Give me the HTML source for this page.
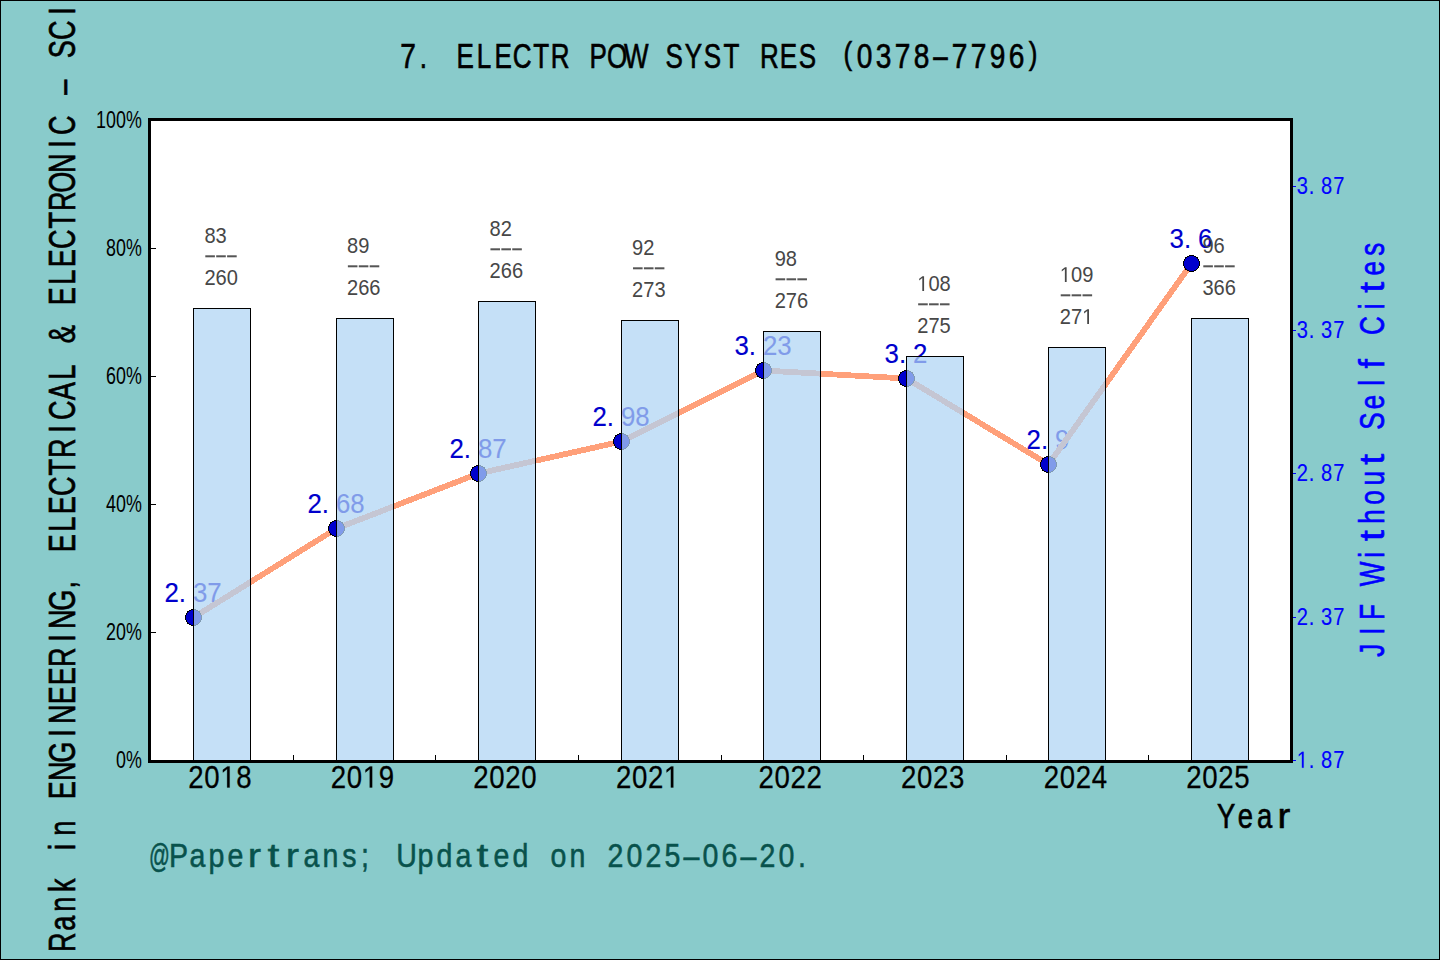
<!DOCTYPE html>
<html><head><meta charset="utf-8"><title>chart</title>
<style>html,body{margin:0;padding:0;width:1440px;height:960px;overflow:hidden;background:#89cbcb}</style>
</head><body>
<svg width="1440" height="960" viewBox="0 0 1440 960" style="display:block">
<rect x="0" y="0" width="1440" height="960" fill="#000"/>
<rect x="1" y="1" width="1438" height="958" fill="#89cbcb"/>
<rect x="149.5" y="119.5" width="1142.0" height="642.0" fill="#fff"/>
<text transform="translate(164.50,601.60) scale(0.9300,1.0)" x="-0.07 15.45 30.58 45.90" font-family='"Liberation Sans", sans-serif' font-size="27.79" fill="#0000cc" stroke="#0000cc" stroke-width="0.15" vector-effect="non-scaling-stroke" >2.37</text>
<text transform="translate(307.50,512.60) scale(0.9300,1.0)" x="-0.07 15.45 30.58 45.90" font-family='"Liberation Sans", sans-serif' font-size="27.79" fill="#0000cc" stroke="#0000cc" stroke-width="0.15" vector-effect="non-scaling-stroke" >2.68</text>
<text transform="translate(449.50,457.60) scale(0.9300,1.0)" x="-0.07 15.45 30.58 45.90" font-family='"Liberation Sans", sans-serif' font-size="27.79" fill="#0000cc" stroke="#0000cc" stroke-width="0.15" vector-effect="non-scaling-stroke" >2.87</text>
<text transform="translate(592.50,425.60) scale(0.9300,1.0)" x="-0.07 15.45 30.58 45.90" font-family='"Liberation Sans", sans-serif' font-size="27.79" fill="#0000cc" stroke="#0000cc" stroke-width="0.15" vector-effect="non-scaling-stroke" >2.98</text>
<text transform="translate(734.50,354.60) scale(0.9300,1.0)" x="-0.07 15.45 30.58 45.90" font-family='"Liberation Sans", sans-serif' font-size="27.79" fill="#0000cc" stroke="#0000cc" stroke-width="0.15" vector-effect="non-scaling-stroke" >3.23</text>
<text transform="translate(884.62,362.60) scale(0.9300,1.0)" x="-0.07 15.45 30.58" font-family='"Liberation Sans", sans-serif' font-size="27.79" fill="#0000cc" stroke="#0000cc" stroke-width="0.15" vector-effect="non-scaling-stroke" >3.2</text>
<text transform="translate(1026.62,448.60) scale(0.9300,1.0)" x="-0.07 15.45 30.58" font-family='"Liberation Sans", sans-serif' font-size="27.79" fill="#0000cc" stroke="#0000cc" stroke-width="0.15" vector-effect="non-scaling-stroke" >2.9</text>
<text transform="translate(1169.62,247.60) scale(0.9300,1.0)" x="-0.07 15.45 30.58" font-family='"Liberation Sans", sans-serif' font-size="27.79" fill="#0000cc" stroke="#0000cc" stroke-width="0.15" vector-effect="non-scaling-stroke" >3.6</text>
<polyline points="193.50,617.50 336.50,528.50 478.50,473.50 621.50,441.50 763.50,370.50 906.50,378.50 1048.50,464.50 1191.50,263.50" fill="none" stroke="#ffa07a" stroke-width="5.8" stroke-linejoin="round" stroke-linecap="butt" shape-rendering="crispEdges"/>
<circle cx="193.50" cy="617.50" r="8" fill="#0000cd" stroke="#000" stroke-width="1" shape-rendering="crispEdges"/>
<circle cx="336.50" cy="528.50" r="8" fill="#0000cd" stroke="#000" stroke-width="1" shape-rendering="crispEdges"/>
<circle cx="478.50" cy="473.50" r="8" fill="#0000cd" stroke="#000" stroke-width="1" shape-rendering="crispEdges"/>
<circle cx="621.50" cy="441.50" r="8" fill="#0000cd" stroke="#000" stroke-width="1" shape-rendering="crispEdges"/>
<circle cx="763.50" cy="370.50" r="8" fill="#0000cd" stroke="#000" stroke-width="1" shape-rendering="crispEdges"/>
<circle cx="906.50" cy="378.50" r="8" fill="#0000cd" stroke="#000" stroke-width="1" shape-rendering="crispEdges"/>
<circle cx="1048.50" cy="464.50" r="8" fill="#0000cd" stroke="#000" stroke-width="1" shape-rendering="crispEdges"/>
<circle cx="1191.50" cy="263.50" r="8" fill="#0000cd" stroke="#000" stroke-width="1" shape-rendering="crispEdges"/>
<rect x="193.50" y="308.50" width="57" height="453.00" fill="#afd4f4" fill-opacity="0.73" stroke="#000" stroke-width="1"/>
<rect x="336.50" y="318.50" width="57" height="443.00" fill="#afd4f4" fill-opacity="0.73" stroke="#000" stroke-width="1"/>
<rect x="478.50" y="301.50" width="57" height="460.00" fill="#afd4f4" fill-opacity="0.73" stroke="#000" stroke-width="1"/>
<rect x="621.50" y="320.50" width="57" height="441.00" fill="#afd4f4" fill-opacity="0.73" stroke="#000" stroke-width="1"/>
<rect x="763.50" y="331.50" width="57" height="430.00" fill="#afd4f4" fill-opacity="0.73" stroke="#000" stroke-width="1"/>
<rect x="906.50" y="356.50" width="57" height="405.00" fill="#afd4f4" fill-opacity="0.73" stroke="#000" stroke-width="1"/>
<rect x="1048.50" y="347.50" width="57" height="414.00" fill="#afd4f4" fill-opacity="0.73" stroke="#000" stroke-width="1"/>
<rect x="1191.50" y="318.50" width="57" height="443.00" fill="#afd4f4" fill-opacity="0.73" stroke="#000" stroke-width="1"/>
<text transform="translate(204.40,243.10) scale(0.9350,1)" font-family='"Liberation Sans", sans-serif' font-size="21.49" fill="#474747" text-anchor="start">83</text>
<rect x="205.30" y="255.30" width="9.6" height="2" fill="#555"/>
<rect x="216.20" y="255.30" width="9.6" height="2" fill="#555"/>
<rect x="227.10" y="255.30" width="9.6" height="2" fill="#555"/>
<text transform="translate(204.40,285.00) scale(0.9350,1)" font-family='"Liberation Sans", sans-serif' font-size="21.49" fill="#474747" text-anchor="start">260</text>
<text transform="translate(346.97,253.10) scale(0.9350,1)" font-family='"Liberation Sans", sans-serif' font-size="21.49" fill="#474747" text-anchor="start">89</text>
<rect x="347.87" y="265.30" width="9.6" height="2" fill="#555"/>
<rect x="358.77" y="265.30" width="9.6" height="2" fill="#555"/>
<rect x="369.67" y="265.30" width="9.6" height="2" fill="#555"/>
<text transform="translate(346.97,295.00) scale(0.9350,1)" font-family='"Liberation Sans", sans-serif' font-size="21.49" fill="#474747" text-anchor="start">266</text>
<text transform="translate(489.54,236.10) scale(0.9350,1)" font-family='"Liberation Sans", sans-serif' font-size="21.49" fill="#474747" text-anchor="start">82</text>
<rect x="490.44" y="248.30" width="9.6" height="2" fill="#555"/>
<rect x="501.34" y="248.30" width="9.6" height="2" fill="#555"/>
<rect x="512.24" y="248.30" width="9.6" height="2" fill="#555"/>
<text transform="translate(489.54,278.00) scale(0.9350,1)" font-family='"Liberation Sans", sans-serif' font-size="21.49" fill="#474747" text-anchor="start">266</text>
<text transform="translate(632.11,255.10) scale(0.9350,1)" font-family='"Liberation Sans", sans-serif' font-size="21.49" fill="#474747" text-anchor="start">92</text>
<rect x="633.01" y="267.30" width="9.6" height="2" fill="#555"/>
<rect x="643.91" y="267.30" width="9.6" height="2" fill="#555"/>
<rect x="654.81" y="267.30" width="9.6" height="2" fill="#555"/>
<text transform="translate(632.11,297.00) scale(0.9350,1)" font-family='"Liberation Sans", sans-serif' font-size="21.49" fill="#474747" text-anchor="start">273</text>
<text transform="translate(774.68,266.10) scale(0.9350,1)" font-family='"Liberation Sans", sans-serif' font-size="21.49" fill="#474747" text-anchor="start">98</text>
<rect x="775.58" y="278.30" width="9.6" height="2" fill="#555"/>
<rect x="786.48" y="278.30" width="9.6" height="2" fill="#555"/>
<rect x="797.38" y="278.30" width="9.6" height="2" fill="#555"/>
<text transform="translate(774.68,308.00) scale(0.9350,1)" font-family='"Liberation Sans", sans-serif' font-size="21.49" fill="#474747" text-anchor="start">276</text>
<path transform="translate(917.25,291.10) scale(0.00981,-0.01049)" d="M515 0L515 1237L197 1010L197 1180L530 1409L696 1409L696 0Z" fill="#474747"/>
<text transform="translate(917.25,291.10) scale(0.9350,1)" font-family='"Liberation Sans", sans-serif' font-size="21.49" fill="#474747" text-anchor="start"> 08</text>
<rect x="918.15" y="303.30" width="9.6" height="2" fill="#555"/>
<rect x="929.05" y="303.30" width="9.6" height="2" fill="#555"/>
<rect x="939.95" y="303.30" width="9.6" height="2" fill="#555"/>
<text transform="translate(917.25,333.00) scale(0.9350,1)" font-family='"Liberation Sans", sans-serif' font-size="21.49" fill="#474747" text-anchor="start">275</text>
<path transform="translate(1059.82,282.10) scale(0.00981,-0.01049)" d="M515 0L515 1237L197 1010L197 1180L530 1409L696 1409L696 0Z" fill="#474747"/>
<text transform="translate(1059.82,282.10) scale(0.9350,1)" font-family='"Liberation Sans", sans-serif' font-size="21.49" fill="#474747" text-anchor="start"> 09</text>
<rect x="1060.72" y="294.30" width="9.6" height="2" fill="#555"/>
<rect x="1071.62" y="294.30" width="9.6" height="2" fill="#555"/>
<rect x="1082.52" y="294.30" width="9.6" height="2" fill="#555"/>
<path transform="translate(1082.17,324.00) scale(0.00981,-0.01049)" d="M515 0L515 1237L197 1010L197 1180L530 1409L696 1409L696 0Z" fill="#474747"/>
<text transform="translate(1059.82,324.00) scale(0.9350,1)" font-family='"Liberation Sans", sans-serif' font-size="21.49" fill="#474747" text-anchor="start">27 </text>
<text transform="translate(1202.39,253.10) scale(0.9350,1)" font-family='"Liberation Sans", sans-serif' font-size="21.49" fill="#474747" text-anchor="start">96</text>
<rect x="1203.29" y="265.30" width="9.6" height="2" fill="#555"/>
<rect x="1214.19" y="265.30" width="9.6" height="2" fill="#555"/>
<rect x="1225.09" y="265.30" width="9.6" height="2" fill="#555"/>
<text transform="translate(1202.39,295.00) scale(0.9350,1)" font-family='"Liberation Sans", sans-serif' font-size="21.49" fill="#474747" text-anchor="start">366</text>
<rect x="149.5" y="119.5" width="1142.0" height="642.0" fill="none" stroke="#000" stroke-width="3"/>
<line x1="151" y1="760.50" x2="156" y2="760.50" stroke="#000" stroke-width="1"/>
<text transform="translate(141.80,767.50) scale(0.7700,1)" font-family='"Liberation Sans", sans-serif' font-size="23.21" fill="#000" text-anchor="end">0%</text>
<line x1="151" y1="632.50" x2="156" y2="632.50" stroke="#000" stroke-width="1"/>
<text transform="translate(141.80,639.50) scale(0.7700,1)" font-family='"Liberation Sans", sans-serif' font-size="23.21" fill="#000" text-anchor="end">20%</text>
<line x1="151" y1="504.50" x2="156" y2="504.50" stroke="#000" stroke-width="1"/>
<text transform="translate(141.80,511.50) scale(0.7700,1)" font-family='"Liberation Sans", sans-serif' font-size="23.21" fill="#000" text-anchor="end">40%</text>
<line x1="151" y1="376.50" x2="156" y2="376.50" stroke="#000" stroke-width="1"/>
<text transform="translate(141.80,383.50) scale(0.7700,1)" font-family='"Liberation Sans", sans-serif' font-size="23.21" fill="#000" text-anchor="end">60%</text>
<line x1="151" y1="248.50" x2="156" y2="248.50" stroke="#000" stroke-width="1"/>
<text transform="translate(141.80,255.50) scale(0.7700,1)" font-family='"Liberation Sans", sans-serif' font-size="23.21" fill="#000" text-anchor="end">80%</text>
<line x1="151" y1="120.50" x2="156" y2="120.50" stroke="#000" stroke-width="1"/>
<text transform="translate(141.80,127.50) scale(0.7700,1)" font-family='"Liberation Sans", sans-serif' font-size="23.21" fill="#000" text-anchor="end">100%</text>
<line x1="293.50" y1="760" x2="293.50" y2="755" stroke="#000" stroke-width="1"/>
<line x1="435.50" y1="760" x2="435.50" y2="755" stroke="#000" stroke-width="1"/>
<line x1="578.50" y1="760" x2="578.50" y2="755" stroke="#000" stroke-width="1"/>
<line x1="721.50" y1="760" x2="721.50" y2="755" stroke="#000" stroke-width="1"/>
<line x1="863.50" y1="760" x2="863.50" y2="755" stroke="#000" stroke-width="1"/>
<line x1="1006.50" y1="760" x2="1006.50" y2="755" stroke="#000" stroke-width="1"/>
<line x1="1148.50" y1="760" x2="1148.50" y2="755" stroke="#000" stroke-width="1"/>
<line x1="1293" y1="760.50" x2="1296" y2="760.50" stroke="#0000ff" stroke-width="1"/>
<path transform="translate(1296.87,767.70) scale(0.00980,-0.01126)" d="M515 0L515 1237L197 1010L197 1180L530 1409L696 1409L696 0Z" fill="#0000ff" stroke="#0000ff" stroke-width="0.15" vector-effect="non-scaling-stroke"/>
<text transform="translate(1296.40,767.70) scale(0.8700,1.0)" x="14.32 28.36 42.26" font-family='"Liberation Sans", sans-serif' font-size="23.07" fill="#0000ff" stroke="#0000ff" stroke-width="0.15" vector-effect="non-scaling-stroke" >.87</text>
<line x1="1293" y1="617.50" x2="1296" y2="617.50" stroke="#0000ff" stroke-width="1"/>
<text transform="translate(1296.40,624.70) scale(0.8700,1.0)" x="0.54 14.32 28.36 42.26" font-family='"Liberation Sans", sans-serif' font-size="23.07" fill="#0000ff" stroke="#0000ff" stroke-width="0.15" vector-effect="non-scaling-stroke" >2.37</text>
<line x1="1293" y1="473.50" x2="1296" y2="473.50" stroke="#0000ff" stroke-width="1"/>
<text transform="translate(1296.40,480.70) scale(0.8700,1.0)" x="0.54 14.32 28.36 42.26" font-family='"Liberation Sans", sans-serif' font-size="23.07" fill="#0000ff" stroke="#0000ff" stroke-width="0.15" vector-effect="non-scaling-stroke" >2.87</text>
<line x1="1293" y1="330.50" x2="1296" y2="330.50" stroke="#0000ff" stroke-width="1"/>
<text transform="translate(1296.40,337.70) scale(0.8700,1.0)" x="0.54 14.32 28.36 42.26" font-family='"Liberation Sans", sans-serif' font-size="23.07" fill="#0000ff" stroke="#0000ff" stroke-width="0.15" vector-effect="non-scaling-stroke" >3.37</text>
<line x1="1293" y1="186.50" x2="1296" y2="186.50" stroke="#0000ff" stroke-width="1"/>
<text transform="translate(1296.40,193.70) scale(0.8700,1.0)" x="0.54 14.32 28.36 42.26" font-family='"Liberation Sans", sans-serif' font-size="23.07" fill="#0000ff" stroke="#0000ff" stroke-width="0.15" vector-effect="non-scaling-stroke" >3.87</text>
<path transform="translate(220.23,787.50) scale(0.01347,-0.01497)" d="M515 0L515 1237L197 1010L197 1180L530 1409L696 1409L696 0Z" fill="#000" stroke="#000" stroke-width="0.25" vector-effect="non-scaling-stroke"/>
<text transform="translate(187.90,787.50) scale(0.9000,1.0)" x="0.36 18.14 53.70" font-family='"Liberation Sans", sans-serif' font-size="30.66" fill="#000" stroke="#000" stroke-width="0.25" vector-effect="non-scaling-stroke" >208</text>
<path transform="translate(362.80,787.50) scale(0.01347,-0.01497)" d="M515 0L515 1237L197 1010L197 1180L530 1409L696 1409L696 0Z" fill="#000" stroke="#000" stroke-width="0.25" vector-effect="non-scaling-stroke"/>
<text transform="translate(330.47,787.50) scale(0.9000,1.0)" x="0.36 18.14 53.70" font-family='"Liberation Sans", sans-serif' font-size="30.66" fill="#000" stroke="#000" stroke-width="0.25" vector-effect="non-scaling-stroke" >209</text>
<text transform="translate(473.04,787.50) scale(0.9000,1.0)" x="0.36 18.14 35.92 53.70" font-family='"Liberation Sans", sans-serif' font-size="30.66" fill="#000" stroke="#000" stroke-width="0.25" vector-effect="non-scaling-stroke" >2020</text>
<path transform="translate(663.94,787.50) scale(0.01347,-0.01497)" d="M515 0L515 1237L197 1010L197 1180L530 1409L696 1409L696 0Z" fill="#000" stroke="#000" stroke-width="0.25" vector-effect="non-scaling-stroke"/>
<text transform="translate(615.61,787.50) scale(0.9000,1.0)" x="0.36 18.14 35.92" font-family='"Liberation Sans", sans-serif' font-size="30.66" fill="#000" stroke="#000" stroke-width="0.25" vector-effect="non-scaling-stroke" >202</text>
<text transform="translate(758.18,787.50) scale(0.9000,1.0)" x="0.36 18.14 35.92 53.70" font-family='"Liberation Sans", sans-serif' font-size="30.66" fill="#000" stroke="#000" stroke-width="0.25" vector-effect="non-scaling-stroke" >2022</text>
<text transform="translate(900.75,787.50) scale(0.9000,1.0)" x="0.36 18.14 35.92 53.70" font-family='"Liberation Sans", sans-serif' font-size="30.66" fill="#000" stroke="#000" stroke-width="0.25" vector-effect="non-scaling-stroke" >2023</text>
<text transform="translate(1043.32,787.50) scale(0.9000,1.0)" x="0.36 18.14 35.92 53.70" font-family='"Liberation Sans", sans-serif' font-size="30.66" fill="#000" stroke="#000" stroke-width="0.25" vector-effect="non-scaling-stroke" >2024</text>
<text transform="translate(1185.89,787.50) scale(0.9000,1.0)" x="0.36 18.14 35.92 53.70" font-family='"Liberation Sans", sans-serif' font-size="30.66" fill="#000" stroke="#000" stroke-width="0.25" vector-effect="non-scaling-stroke" >2025</text>
<text transform="translate(398.50,68.00) scale(0.7992,1.0)" x="2.12 573.29 597.09 620.89 644.69 692.28 716.08 739.88 763.68" font-family='"Liberation Sans", sans-serif' font-size="35.17" fill="#000" stroke="#000" stroke-width="0.6" vector-effect="non-scaling-stroke" >703787796</text>
<text transform="translate(398.50,68.00) scale(0.7400,1.0)" x="28.78 78.23 105.88 129.63 154.37 182.03 205.77 258.15 281.90 304.68 360.96 386.66 412.36 439.05 488.50 515.17 540.88 722.75" font-family='"Liberation Sans", sans-serif' font-size="35.17" fill="#000" stroke="#000" stroke-width="0.6" vector-effect="non-scaling-stroke" >.ELECTRPOWSYSTRES–</text>
<text transform="translate(398.50,63.80) scale(0.7400,0.88)" x="601.50 851.84" font-family='"Liberation Sans", sans-serif' font-size="35.17" fill="#000" stroke="#000" stroke-width="0.6" vector-effect="non-scaling-stroke" >()</text>
<text transform="translate(74.60,951.60) rotate(-90) scale(0.7400,1.0)" x="-0.39 28.33 54.00 80.71 137.15 156.71 206.03 230.69 255.35 290.18 307.72 334.41 360.08 384.75 418.56 436.10 460.75 490.71 539.81 567.52 591.16 615.83 643.54 667.18 700.99 718.53 745.22 772.92 822.24 873.60 901.30 924.95 949.61 977.33 1000.96 1025.62 1052.31 1086.13 1103.67 1158.06 1207.38 1232.04 1265.86" font-family='"Liberation Sans", sans-serif' font-size="36.63" fill="#000" stroke="#000" stroke-width="0.6" vector-effect="non-scaling-stroke" >RankinENGINEERING,ELECTRICAL&amp;ELECTRONIC–SCI</text>
<text transform="translate(1384.40,659.80) rotate(-90) scale(0.7400,1.0)" x="4.08 33.81 53.74 99.48 138.04 183.76 209.57 235.38 310.86 338.62 370.33 438.94 473.58 519.30 546.10" font-family='"Liberation Sans", sans-serif' font-size="35.32" fill="#0000ff" stroke="#0000ff" stroke-width="0.6" vector-effect="non-scaling-stroke" >JIFWihouSelCies</text>
<text transform="translate(1384.40,659.80) rotate(-90) scale(1.1100,1.0)" x="106.94 175.77 330.63" font-family='"Liberation Sans", sans-serif' font-size="35.32" fill="#0000ff" stroke="#0000ff" stroke-width="0.6" vector-effect="non-scaling-stroke" >ttt</text>
<text transform="translate(1384.40,659.80) rotate(-90) scale(0.9620,1.0)" x="302.84" font-family='"Liberation Sans", sans-serif' font-size="35.32" fill="#0000ff" stroke="#0000ff" stroke-width="0.6" vector-effect="non-scaling-stroke" >f</text>
<text transform="translate(1216.40,828.10) scale(0.7700,1.0)" x="0.66 27.69 52.76" font-family='"Liberation Sans", sans-serif' font-size="35.61" fill="#000" stroke="#000" stroke-width="0.6" vector-effect="non-scaling-stroke" >Yea</text>
<text transform="translate(1216.40,828.10) scale(1.0780,1.0)" x="56.73" font-family='"Liberation Sans", sans-serif' font-size="35.61" fill="#000" stroke="#000" stroke-width="0.6" vector-effect="non-scaling-stroke" >r</text>
<text transform="translate(150.00,866.50) scale(0.6048,1.0)" x="-1.56" font-family='"Liberation Sans", sans-serif' font-size="34.01" fill="#08524c" stroke="#08524c" stroke-width="0.5" vector-effect="non-scaling-stroke" >@</text>
<text transform="translate(150.00,866.50) scale(0.8400,1.0)" x="22.59 47.09 69.71 92.33 182.80 205.42 229.00 251.10 293.08 318.52 341.14 363.76 408.99 431.61 476.85 499.47 544.71 567.33 589.95 612.57 635.19 657.80 680.42 703.04 725.66 748.28 771.33" font-family='"Liberation Sans", sans-serif' font-size="34.01" fill="#08524c" stroke="#08524c" stroke-width="0.5" vector-effect="non-scaling-stroke" >Papeans;Updaedon2025–06–20.</text>
<text transform="translate(150.00,866.50) scale(1.1760,1.0)" x="83.20 115.51" font-family='"Liberation Sans", sans-serif' font-size="34.01" fill="#08524c" stroke="#08524c" stroke-width="0.5" vector-effect="non-scaling-stroke" >rr</text>
<text transform="translate(150.00,866.50) scale(1.2600,1.0)" x="93.29 259.16" font-family='"Liberation Sans", sans-serif' font-size="34.01" fill="#08524c" stroke="#08524c" stroke-width="0.5" vector-effect="non-scaling-stroke" >tt</text>
</svg>
</body></html>
